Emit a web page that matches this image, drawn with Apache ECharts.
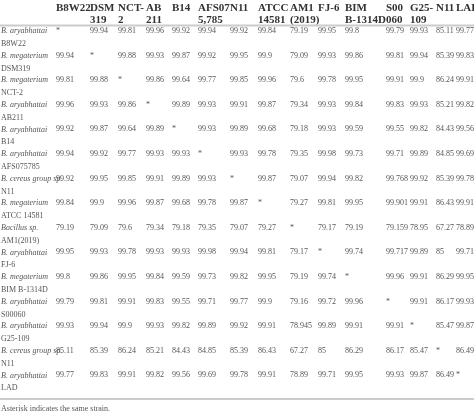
<!DOCTYPE html>
<html><head><meta charset="utf-8">
<script src="https://cdn.jsdelivr.net/npm/echarts@6/dist/echarts.min.js"></script>
<style>html,body{margin:0;padding:0;background:#fff}#c{width:474px;height:411px}</style>
</head><body><div id="c"></div>
<script>
const columns = ["B8W22","DSM\n319","NCT-\n2","AB\n211","B14","AFS07\n5,785","N11","ATCC\n14581","AM1\n(2019)","FJ-6","BIM\nB-1314D","S00\n060","G25-\n109","N11","LAD"];
const species = ["B. aryabhattai","B. megaterium","B. megaterium","B. aryabhattai","B. aryabhattai","B. aryabhattai","B. cereus group sp.","B. megaterium","Bacillus sp.","B. aryabhattai","B. megaterium","B. aryabhattai","B. aryabhattai","B. cereus group sp.","B. aryabhattai"];
const strains = ["B8W22","DSM319","NCT-2","AB211","B14","AFS075785","N11","ATCC 14581","AM1(2019)","FJ-6","BIM B-1314D","S00060","G25-109","N11","LAD"];
const values = [
["*","99.94","99.81","99.96","99.92","99.94","99.92","99.84","79.19","99.95","99.8","99.79","99.93","85.11","99.77"],
["99.94","*","99.88","99.93","99.87","99.92","99.95","99.9","79.09","99.93","99.86","99.81","99.94","85.39","99.83"],
["99.81","99.88","*","99.86","99.64","99.77","99.85","99.96","79.6","99.78","99.95","99.91","99.9","86.24","99.91"],
["99.96","99.93","99.86","*","99.89","99.93","99.91","99.87","79.34","99.93","99.84","99.83","99.93","85.21","99.82"],
["99.92","99.87","99.64","99.89","*","99.93","99.89","99.68","79.18","99.93","99.59","99.55","99.82","84.43","99.56"],
["99.94","99.92","99.77","99.93","99.93","*","99.93","99.78","79.35","99.98","99.73","99.71","99.89","84.85","99.69"],
["99.92","99.95","99.85","99.91","99.89","99.93","*","99.87","79.07","99.94","99.82","99.768","99.92","85.39","99.78"],
["99.84","99.9","99.96","99.87","99.68","99.78","99.87","*","79.27","99.81","99.95","99.901","99.91","86.43","99.91"],
["79.19","79.09","79.6","79.34","79.18","79.35","79.07","79.27","*","79.17","79.19","79.159","78.95","67.27","78.89"],
["99.95","99.93","99.78","99.93","99.93","99.98","99.94","99.81","79.17","*","99.74","99.717","99.89","85","99.71"],
["99.8","99.86","99.95","99.84","99.59","99.73","99.82","99.95","79.19","99.74","*","99.96","99.91","86.29","99.95"],
["99.79","99.81","99.91","99.83","99.55","99.71","99.77","99.9","79.16","99.72","99.96","*","99.91","86.17","99.93"],
["99.93","99.94","99.9","99.93","99.82","99.89","99.92","99.91","78.945","99.89","99.91","99.91","*","85.47","99.87"],
["85.11","85.39","86.24","85.21","84.43","84.85","85.39","86.43","67.27","85","86.29","86.17","85.47","*","86.49"],
["99.77","99.83","99.91","99.82","99.56","99.69","99.78","99.91","78.89","99.71","99.95","99.93","99.87","86.49","*"]
];
const footnote = "Asterisk indicates the same strain.";

// layout (pixel-space scale)
const colX = [56,90,118,146,172,198,230,258,290,318,345,386,410,436,456];
const rowY0 = 31, rowStep = 24.6;
const serif = '"Liberation Serif","DejaVu Serif",serif';

const cellData = [];
values.forEach((r,i)=>r.forEach((v,j)=>cellData.push([colX[j], rowY0+i*rowStep, v])));
const headData = columns.map((c,j)=>[colX[j], 2, c]);
const rowData = species.map((s,i)=>[1, rowY0+i*rowStep, s, strains[i]]);

const chart = echarts.init(document.getElementById('c'));
chart.setOption({
  animation:false,
  grid:{left:0,right:0,top:0,bottom:0},
  xAxis:{type:'value',min:0,max:474,show:false},
  yAxis:{type:'value',min:0,max:411,inverse:true,show:false},
  series:[
    {type:'custom',data:cellData,renderItem:(p,api)=>{
      const pt=api.coord([api.value(0),api.value(1)]);
      return {type:'text',x:pt[0],y:pt[1],style:{text:cellData[p.dataIndex][2],font:'8px '+serif,fill:'#555',verticalAlign:'middle',align:'left'}};
    }},
    {type:'custom',data:headData,renderItem:(p,api)=>{
      const pt=api.coord([api.value(0),api.value(1)]);
      return {type:'text',x:pt[0],y:pt[1],style:{text:headData[p.dataIndex][2],font:'bold 11px '+serif,lineHeight:12,fill:'#333',verticalAlign:'top',align:'left'}};
    }},
    {type:'custom',data:rowData,renderItem:(p,api)=>{
      const pt=api.coord([api.value(0),api.value(1)]);
      const d=rowData[p.dataIndex];
      return {type:'group',children:[
        {type:'text',x:pt[0],y:pt[1],style:{text:d[2],font:'italic 8px '+serif,fill:'#555',verticalAlign:'middle'}},
        {type:'text',x:pt[0],y:pt[1]+13,style:{text:d[3],font:'8px '+serif,fill:'#555',verticalAlign:'middle'}}
      ]};
    }},
    {type:'custom',data:[[0,25.5,474],[0,399,474]],renderItem:(p,api)=>{
      const a=api.coord([api.value(0),api.value(1)]),b=api.coord([api.value(2),api.value(1)]);
      return {type:'line',shape:{x1:a[0],y1:a[1],x2:b[0],y2:b[1]},style:{stroke:'#ccc',lineWidth:2}};
    }},
    {type:'custom',data:[[1,409]],renderItem:(p,api)=>{
      const pt=api.coord([api.value(0),api.value(1)]);
      return {type:'text',x:pt[0],y:pt[1],style:{text:footnote,font:'8px '+serif,fill:'#555',verticalAlign:'middle'}};
    }}
  ]
});
</script></body></html>
